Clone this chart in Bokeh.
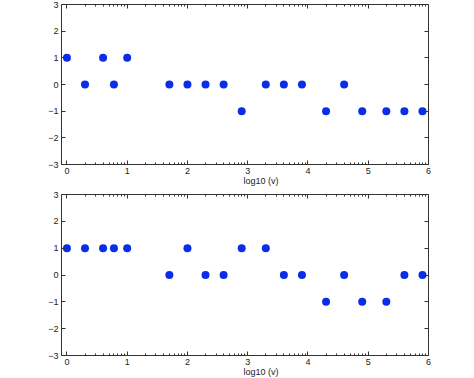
import numpy as np
from bokeh.plotting import figure
from bokeh.layouts import column
from bokeh.models import FixedTicker, LinearAxis, Range1d, Title
from bokeh.embed import file_html
from bokeh.resources import INLINE

x_vals = [0.0, 0.30, 0.60, 0.78, 1.0, 1.70, 2.0, 2.30, 2.60, 2.90,
          3.30, 3.60, 3.90, 4.30, 4.60, 4.90, 5.30, 5.60, 5.90]
y_top = [1, 0, 1, 0, 1, 0, 0, 0, 0, -1, 0, 0, 0, -1, 0, -1, -1, -1, -1]
y_bottom = [1, 1, 1, 1, 1, 0, 1, 0, 0, 1, 1, 0, 0, -1, 0, -1, -1, 0, 0]
x_ticks = [0, 1, 2, 3, 4, 5, 6]
y_ticks = [-3, -2, -1, 0, 1, 2, 3]
x_label = "log10 (v)"

FONT = "Liberation Sans"
DOT = "#0a2ee8"
AX = "#333333"

minor = [d + np.log10(k) for d in range(6) for k in range(2, 10)]


def style_axis(ax, ticks, minor_ticks=None, labels=True):
    ax.ticker = FixedTicker(ticks=ticks, minor_ticks=minor_ticks or [])
    ax.major_tick_in = 4
    ax.major_tick_out = 0
    ax.minor_tick_in = 2
    ax.minor_tick_out = 0
    ax.axis_line_color = AX
    ax.major_tick_line_color = AX
    ax.minor_tick_line_color = AX
    ax.major_label_text_font = FONT
    ax.major_label_text_font_size = "9px"
    ax.major_label_text_color = "#222222"
    ax.major_label_standoff = 3
    if not labels:
        ax.major_label_text_font_size = "0px"
        ax.major_label_text_alpha = 0
        ax.major_label_standoff = 0


def make_panel(yv, top_border, frame_h, bottom_border):
    p = figure(frame_width=367, frame_height=frame_h,
               x_range=Range1d(-0.09, 6.0), y_range=Range1d(-3, 3),
               output_backend="svg", toolbar_location=None,
               min_border_left=61, min_border_right=45,
               min_border_top=top_border, min_border_bottom=bottom_border,
               x_axis_location=None, y_axis_location=None)
    p.grid.visible = False
    p.outline_line_color = None
    p.background_fill_color = "white"
    p.border_fill_color = "white"

    bx = LinearAxis()
    style_axis(bx, x_ticks, minor)
    p.add_layout(bx, "below")
    tx = LinearAxis()
    style_axis(tx, x_ticks, minor, labels=False)
    p.add_layout(tx, "above")
    ly = LinearAxis()
    style_axis(ly, y_ticks)
    p.add_layout(ly, "left")
    ry = LinearAxis()
    style_axis(ry, y_ticks, labels=False)
    p.add_layout(ry, "right")

    p.scatter(x_vals, yv, size=8, color=DOT, line_color=None)

    t = Title(text=x_label, align="left", offset=182, standoff=-5,
              text_font=FONT, text_font_size="9px", text_font_style="normal",
              text_color="#222222")
    p.add_layout(t, "below")
    return p


p1 = make_panel(y_top, 4, 160, 25)
p2 = make_panel(y_bottom, 5, 161, 23)
layout = column(p1, p2, spacing=0)

open("out.html", "w").write(file_html(layout, INLINE))
